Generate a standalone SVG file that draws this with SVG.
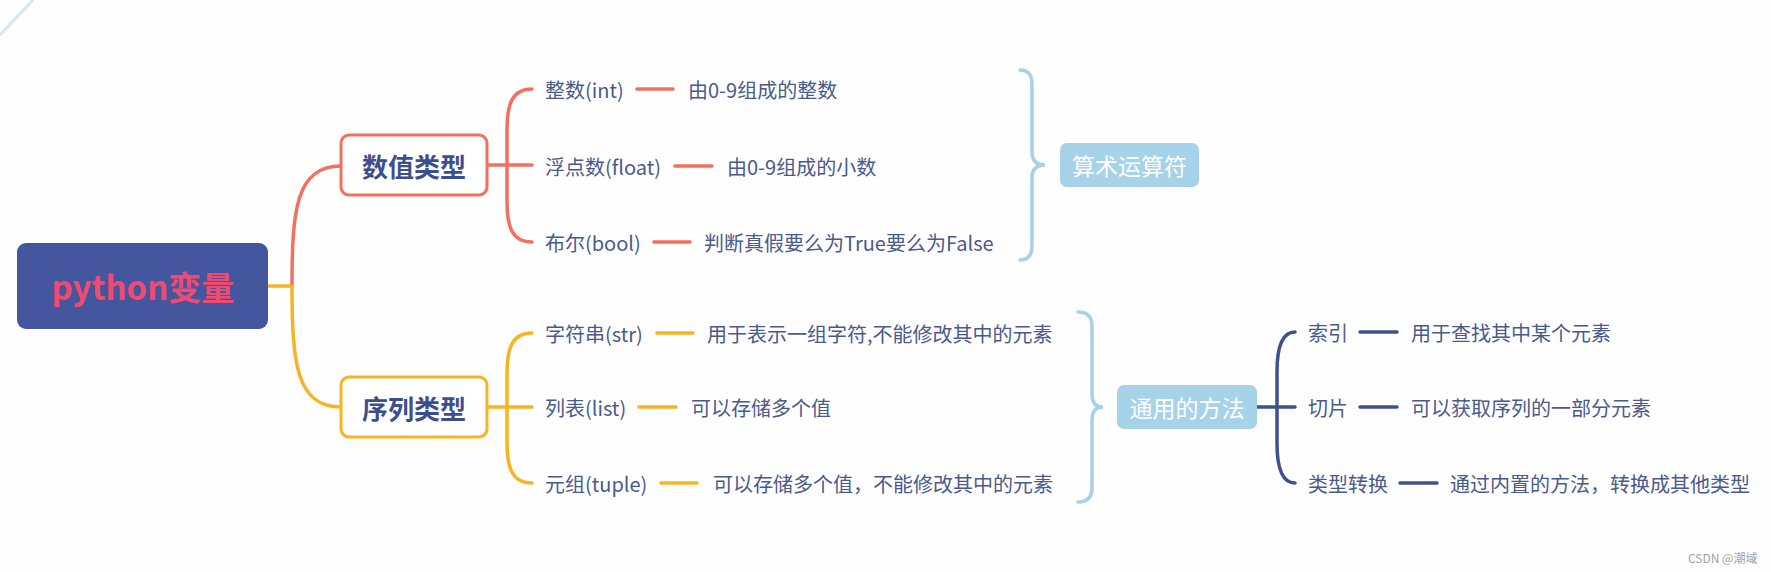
<svg xmlns="http://www.w3.org/2000/svg" width="1771" height="572" viewBox="0 0 1771 572">
<defs>
<style>
text{font-family:"Noto Sans CJK SC","Noto Sans",sans-serif;dominant-baseline:central}
.item{font-size:20px;fill:#4A5A8C}
.title{font-size:26px;font-weight:bold;fill:#3D4E8E;text-anchor:middle}
.pill{font-size:23px;fill:#FFFFFF;text-anchor:middle}
.c{fill:none;stroke-width:3.5;stroke-linecap:round}
.red{stroke:#F3705F}
.org{stroke:#F6B322}
.navy{stroke:#3F4F94}
.lb{stroke:#A8D0E8}
</style>
</defs>
<rect width="1771" height="572" fill="#FEFEFE"/>
<line x1="0" y1="35" x2="33" y2="0" stroke="#D3E7F7" stroke-width="3"/>

<g id="connectors">
<path class="c org" d="M268 286 L292 286"/>
<path class="c red" d="M292 286 C292 210 296 166 341 166"/>
<path class="c org" d="M292 286 C292 362 296 407 341 407"/>
<path class="c red" d="M487 165 L532 165 M532 89 C512 89 507 104 507 130 L507 201 C507 227 512 242 532 242"/>
<path class="c org" d="M487 407 L532 407 M532 333 C512 333 507 348 507 374 L507 442 C507 468 512 483 532 483"/>
<path class="c red" d="M637 89 L673 89 M675 166 L712 166 M654 242 L690 242"/>
<path class="c org" d="M657 333 L693 333 M639 407 L676 407 M661 483 L697 483"/>
<path class="c lb" d="M1020 70 Q1032 70 1032 84 L1032 152 Q1032 165 1045 165 Q1032 165 1032 178 L1032 246 Q1032 260 1020 260"/>
<path class="c lb" d="M1078 312 Q1092 312 1092 326 L1092 394 Q1092 407 1103 407 Q1092 407 1092 420 L1092 488 Q1092 502 1078 502"/>
<path class="c navy" d="M1257 407 L1295 407 M1295 332 C1282 332 1277 347 1277 372 L1277 443 C1277 468 1282 483 1295 483"/>
<path class="c navy" d="M1360 332 L1397 332 M1360 407 L1397 407 M1400 483 L1437 483"/>
</g>

<g id="root">
<rect x="17" y="243" width="251" height="86" rx="9" fill="#43569E"/>
<text x="143" y="286" text-anchor="middle" font-size="33" font-weight="bold" fill="#F14A70">python变量</text>
</g>

<g id="num">
<rect x="341" y="135" width="146" height="60" rx="8" fill="#FFFFFF" stroke="#F3705F" stroke-width="3"/>
<text class="title" x="414" y="165">数值类型</text>
</g>
<g id="seq">
<rect x="341" y="377" width="146" height="60" rx="8" fill="#FFFFFF" stroke="#F6B322" stroke-width="3"/>
<text class="title" x="414" y="407">序列类型</text>
</g>

<g id="int"><text class="item" x="545" y="89">整数(int)</text></g>
<g id="int-d"><text class="item" x="688" y="89">由0-9组成的整数</text></g>
<g id="float"><text class="item" x="545" y="166">浮点数(float)</text></g>
<g id="float-d"><text class="item" x="727" y="166">由0-9组成的小数</text></g>
<g id="bool"><text class="item" x="545" y="242">布尔(bool)</text></g>
<g id="bool-d"><text class="item" x="704" y="242">判断真假要么为True要么为False</text></g>

<g id="str"><text class="item" x="545" y="333">字符串(str)</text></g>
<g id="str-d"><text class="item" x="707" y="333">用于表示一组字符,不能修改其中的元素</text></g>
<g id="list"><text class="item" x="545" y="407">列表(list)</text></g>
<g id="list-d"><text class="item" x="691" y="407">可以存储多个值</text></g>
<g id="tuple"><text class="item" x="545" y="483">元组(tuple)</text></g>
<g id="tuple-d"><text class="item" x="713" y="483">可以存储多个值，不能修改其中的元素</text></g>

<g id="arith">
<rect x="1060" y="143" width="139" height="44" rx="7" fill="#A6D2EA"/>
<text class="pill" x="1129.5" y="165">算术运算符</text>
</g>
<g id="common">
<rect x="1117" y="385" width="140" height="44" rx="7" fill="#A6D2EA"/>
<text class="pill" x="1187" y="407">通用的方法</text>
</g>

<g id="index"><text class="item" x="1308" y="332">索引</text></g>
<g id="index-d"><text class="item" x="1411" y="332">用于查找其中某个元素</text></g>
<g id="slice"><text class="item" x="1308" y="407">切片</text></g>
<g id="slice-d"><text class="item" x="1411" y="407">可以获取序列的一部分元素</text></g>
<g id="conv"><text class="item" x="1308" y="483">类型转换</text></g>
<g id="conv-d"><text class="item" x="1450" y="483">通过内置的方法，转换成其他类型</text></g>

<text x="1688" y="557" font-size="12" fill="#A0A0A0">CSDN @潮域</text>
</svg>
